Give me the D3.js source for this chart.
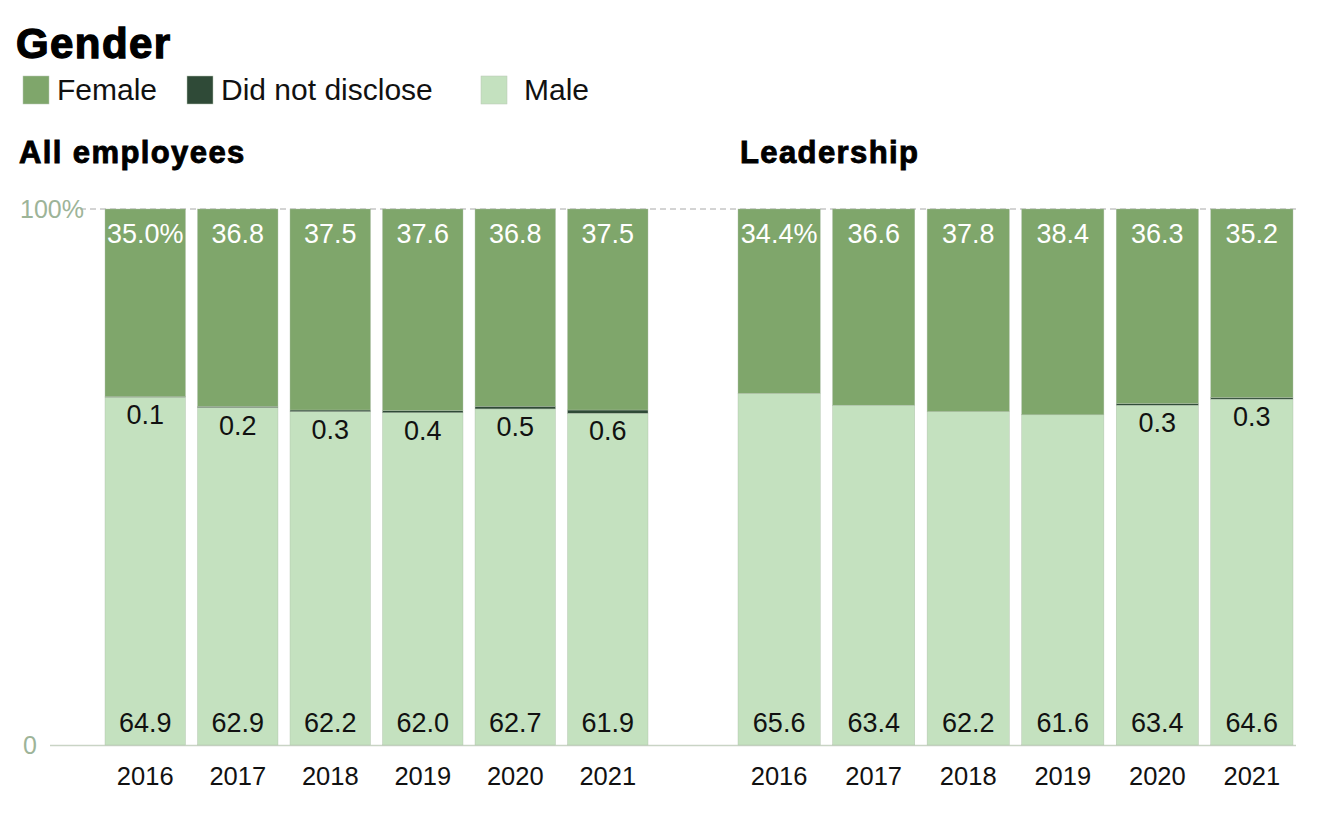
<!DOCTYPE html>
<html>
<head>
<meta charset="utf-8">
<script src="https://cdn.jsdelivr.net/npm/d3@7"></script>
<style>
  html, body { margin: 0; padding: 0; background: #ffffff; }
  svg { display: block; }
</style>
</head>
<body>
<script>
// ---------- data ----------
const years = ["2016", "2017", "2018", "2019", "2020", "2021"];
const seriesKeys = ["male", "undisclosed", "female"];
const seriesNames = { female: "Female", undisclosed: "Did not disclose", male: "Male" };

const allFemale      = [35.0, 36.8, 37.5, 37.6, 36.8, 37.5];
const allUndisclosed = [0.1, 0.2, 0.3, 0.4, 0.5, 0.6];
const allMale        = [64.9, 62.9, 62.2, 62.0, 62.7, 61.9];

const leadFemale      = [34.4, 36.6, 37.8, 38.4, 36.3, 35.2];
const leadUndisclosed = [0, 0, 0, 0, 0.3, 0.3];
const leadMale        = [65.6, 63.4, 62.2, 61.6, 63.4, 64.6];

const yTicks = [0, 100];
const legendOrder = ["female", "undisclosed", "male"];

// ---------- style ----------
const W = 1330, H = 820;
const colors = { female: "#7fa66b", undisclosed: "#2f4a37", male: "#c4e1bf" };
const font = "'Liberation Sans', Arial, sans-serif";

const svg = d3.select("body").append("svg").attr("width", W).attr("height", H);

// title
svg.append("text").attr("x", 16).attr("y", 58)
  .attr("font-family", font).attr("font-weight", "bold")
  .attr("font-size", 42).attr("letter-spacing", 1.4).attr("fill", "#000")
  .attr("stroke", "#000").attr("stroke-width", 1.3)
  .text("Gender");

// legend
const legendX = { female: 23, undisclosed: 187, male: 481 };
const lg = svg.append("g");
legendOrder.forEach(k => {
  lg.append("rect").attr("x", legendX[k]).attr("y", 76).attr("width", 26).attr("height", 28)
    .attr("fill", colors[k]).attr("stroke", "#b9c7b5").attr("stroke-width", 0.5);
  lg.append("text").attr("x", legendX[k] + (k === "male" ? 43 : 34)).attr("y", 100)
    .attr("font-family", font).attr("font-size", 30).attr("fill", "#111")
    .text(seriesNames[k]);
});

// scales
const y = d3.scaleLinear().domain([0, 1]).range([745, 209]);

// reference lines
svg.append("line").attr("x1", 80).attr("x2", 1296).attr("y1", y(1)).attr("y2", y(1))
  .attr("stroke", "#a8a8a8").attr("stroke-width", 1).attr("stroke-dasharray", "6,4");
svg.append("line").attr("x1", 50).attr("x2", 1296).attr("y1", y(0) + 0.5).attr("y2", y(0) + 0.5)
  .attr("stroke", "#c9d4c5").attr("stroke-width", 1.5);

// y axis labels
svg.append("g").selectAll("text").data(yTicks).join("text")
  .attr("x", d => d === 100 ? 20 : 23)
  .attr("y", d => y(d / 100) + 9)
  .attr("font-family", font).attr("font-size", 25).attr("fill", "#9db498")
  .text(d => d === 100 ? "100%" : "0");

function panel(title, titleX, range, padInner, female, undisclosed, male) {
  const rows = years.map((yr, i) => ({ year: yr, female: female[i], undisclosed: undisclosed[i], male: male[i] }));
  const stacked = d3.stack().keys(seriesKeys).offset(d3.stackOffsetExpand)(rows);
  const x = d3.scaleBand().domain(years).range(range).paddingInner(padInner).paddingOuter(0);
  const g = svg.append("g");

  g.append("text").attr("x", titleX).attr("y", 163)
    .attr("font-family", font).attr("font-weight", "bold").attr("font-size", 31)
    .attr("letter-spacing", 1.4).attr("fill", "#000")
    .attr("stroke", "#000").attr("stroke-width", 0.9)
    .text(title);

  g.selectAll("g.series").data(stacked).join("g").attr("class", "series")
    .attr("fill", s => colors[s.key])
    .selectAll("rect").data(s => s).join("rect")
    .attr("x", d => x(d.data.year))
    .attr("width", x.bandwidth())
    .attr("y", d => y(d[1]))
    .attr("height", d => Math.max(0, y(d[0]) - y(d[1])))
    .attr("stroke", "#aebfaa").attr("stroke-width", 0.4);

  const fmt = d3.format(".1f");
  const maleS = stacked.find(s => s.key === "male");
  const femS = stacked.find(s => s.key === "female");
  const undS = stacked.find(s => s.key === "undisclosed");

  // female labels at top
  g.selectAll("text.fem").data(femS).join("text").attr("class", "fem")
    .attr("x", d => x(d.data.year) + x.bandwidth() / 2)
    .attr("y", d => y(d[1]) + 34)
    .attr("text-anchor", "middle").attr("font-family", font).attr("font-size", 27).attr("fill", "#fff")
    .text((d, i) => fmt(d.data.female) + (i === 0 ? "%" : ""));

  // male labels at bottom
  g.selectAll("text.male").data(maleS).join("text").attr("class", "male")
    .attr("x", d => x(d.data.year) + x.bandwidth() / 2)
    .attr("y", d => y(d[0]) - 13)
    .attr("text-anchor", "middle").attr("font-family", font).attr("font-size", 27).attr("fill", "#111")
    .text(d => fmt(d.data.male));

  // undisclosed labels under the thin segment
  g.selectAll("text.und").data(undS.filter(d => d.data.undisclosed > 0)).join("text").attr("class", "und")
    .attr("x", d => x(d.data.year) + x.bandwidth() / 2)
    .attr("y", d => y(d[0]) + 27)
    .attr("text-anchor", "middle").attr("font-family", font).attr("font-size", 27).attr("fill", "#111")
    .text(d => fmt(d.data.undisclosed));

  // x axis year labels
  g.selectAll("text.year").data(years).join("text").attr("class", "year")
    .attr("x", d => x(d) + x.bandwidth() / 2)
    .attr("y", 785)
    .attr("text-anchor", "middle").attr("font-family", font).attr("font-size", 25.5).attr("fill", "#111")
    .text(d => d);
}

panel("All employees", 19, [105, 648], 0.13, allFemale, allUndisclosed, allMale);
panel("Leadership", 740, [738, 1293], 0.13, leadFemale, leadUndisclosed, leadMale);
</script>
</body>
</html>
